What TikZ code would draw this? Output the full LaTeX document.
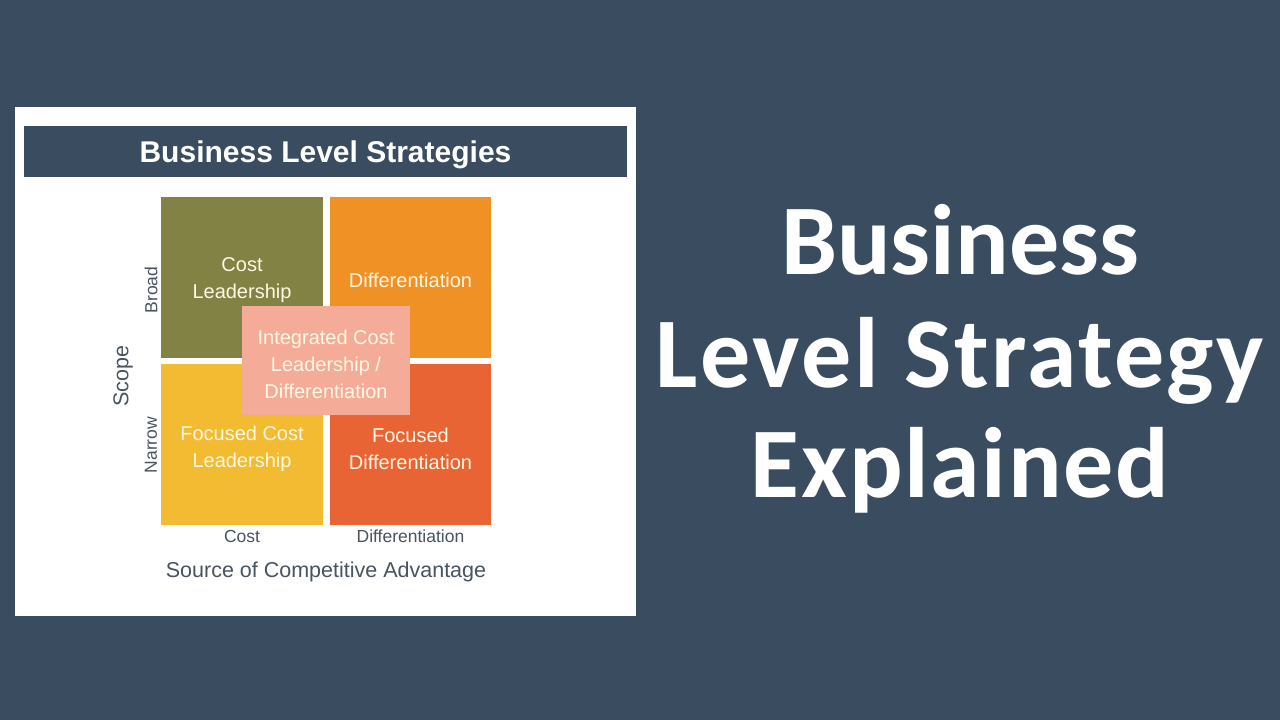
\documentclass[tikz,border=0pt]{standalone}
\usepackage{fontspec}
\setmainfont{Liberation Sans}
\newfontfamily\bigfont{Carlito}
\definecolor{slate}{RGB}{58,77,96}
\definecolor{olive}{RGB}{130,130,68}
\definecolor{orng}{RGB}{240,145,38}
\definecolor{yell}{RGB}{242,187,50}
\definecolor{redo}{RGB}{233,100,52}
\definecolor{salmon}{RGB}{244,172,152}
\definecolor{cream}{RGB}{255,248,228}
\definecolor{axisgray}{RGB}{72,84,96}
\begin{document}
\begin{tikzpicture}[x=1pt,y=-1pt,
  cell/.style={draw=none,inner sep=0pt,align=center,text=cream,font=\fontsize{20}{27}\selectfont},
  axl/.style={inner sep=0pt,text=axisgray,font=\fontsize{17.5}{20}\selectfont},
  axbig/.style={inner sep=0pt,text=axisgray,font=\fontsize{21.5}{24}\selectfont},
  bigt/.style={inner sep=0pt,anchor=base,text=white,font=\bigfont\bfseries\fontsize{100}{110}\selectfont}]
\fill[slate] (0,0) rectangle (1280,720);
\useasboundingbox (0,0) rectangle (1280,720);
\fill[white] (15,107) rectangle (636,616);
\fill[slate] (24,126) rectangle (627,177);
\node[inner sep=0pt,anchor=base,text=white,font=\bfseries\fontsize{30}{32}\selectfont] (title) at (325.5,162) {Business Level Strategies};
\node[cell,fill=olive,minimum width=162pt,minimum height=161pt] (cl) at (242,277.5) {};
\node[cell,fill=orng,minimum width=161pt,minimum height=161pt] (df) at (410.5,277.5) {};
\node[cell,fill=yell,minimum width=162pt,minimum height=161pt] (fcl) at (242,444.5) {};
\node[cell,fill=redo,minimum width=161pt,minimum height=161pt] (fd) at (410.5,444.5) {};
\node[cell] (cltext) at (242,280.5) {Cost\\Leadership};
\node[cell] (dftext) at (410.5,280) {Differentiation};
\node[cell] (fcltext) at (242,448.5) {Focused Cost\\Leadership};
\node[cell] (fdtext) at (410.5,448.5) {Focused\\Differentiation};
\node[cell,fill=salmon,minimum width=168pt,minimum height=109pt] (icl) at (326,360.5) {};
\node[cell] (icltext) at (326,364.5) {Integrated Cost\\Leadership /\\Differentiation};
\node[axl] (xc) at (242,536.5) {Cost};
\node[axl] (xd) at (410.5,536.5) {Differentiation};
\node[axbig] (xa) at (326,571.5) {Source of Competitive Advantage};
\node[axl,rotate=90] (yb) at (151,290) {Broad};
\node[axl,rotate=90] (yn) at (151,445) {Narrow};
\node[axbig,rotate=90] (ys) at (123,376) {Scope};
\node[bigt] (b1) at (960,274) {Business};
\node[bigt] (b2) at (960,387) {\addfontfeatures{LetterSpace=2.5}Level Strategy};
\node[bigt] (b3) at (960,497) {\addfontfeatures{LetterSpace=1.7}Explained};
\end{tikzpicture}
\end{document}
